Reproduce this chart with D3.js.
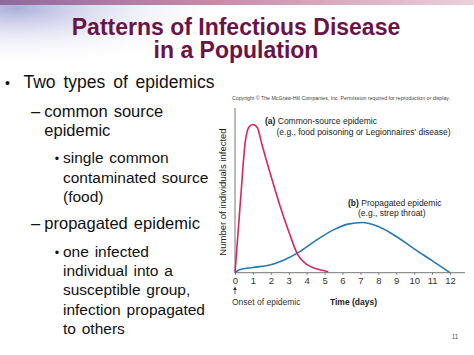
<!DOCTYPE html>
<html><head><meta charset="utf-8">
<script src="https://cdn.jsdelivr.net/npm/d3@7"></script>
<style>
html,body{margin:0;padding:0;background:#fff;}
svg{display:block;font-family:"Liberation Sans",Arial,sans-serif;}
</style></head>
<body>
<svg id="c" width="474" height="355"></svg>
<script>
// ---- data ----
const titleLines = ["Patterns of Infectious Disease", "in a Population"];
const days = [0,1,2,3,4,5,6,7,8,9,10,11,12];
const commonDays   = [0, 0.3, 0.58, 0.78, 1.0, 1.25, 1.5, 2.0, 2.5, 3.0, 3.5, 4.0, 4.5, 5.2];
const commonValues = [0, 43, 80, 88.5, 90, 88, 78, 59, 41, 25, 11, 5, 2.5, 0.6];
const propDays   = [0, 0.25, 1, 2, 2.7, 3.5, 4.5, 5.5, 6.3, 7.1, 8, 9, 10, 11, 12];
const propValues = [0, 1.8, 3.2, 4.8, 7.5, 12, 19.5, 26, 29.5, 30.5, 28, 22, 14.5, 7.3, 0];
const bulletLines = [
  {lvl:1, mark:"•", text:"Two types of epidemics", y:87.5},
  {lvl:2, mark:"–", text:"common source", y:116.5},
  {lvl:2, mark:"",  text:"epidemic", y:136},
  {lvl:3, mark:"•", text:"single common", y:163},
  {lvl:3, mark:"",  text:"contaminated source", y:182.5},
  {lvl:3, mark:"",  text:"(food)", y:201.5},
  {lvl:2, mark:"–", text:"propagated epidemic", y:229},
  {lvl:3, mark:"•", text:"one infected", y:256.5},
  {lvl:3, mark:"",  text:"individual into a", y:276},
  {lvl:3, mark:"",  text:"susceptible group,", y:295},
  {lvl:3, mark:"",  text:"infection propagated", y:314.5},
  {lvl:3, mark:"",  text:"to others", y:333.5}
];

const svg = d3.select("#c");
const defs = svg.append("defs");

// background
const g1 = defs.append("linearGradient").attr("id","topband").attr("x1","0").attr("x2","1");
g1.append("stop").attr("offset","0").attr("stop-color","#8e6a9e");
g1.append("stop").attr("offset","0.45").attr("stop-color","#c98aa8");
g1.append("stop").attr("offset","1").attr("stop-color","#ecd0dc");
const g2 = defs.append("radialGradient").attr("id","haze").attr("cx","0.05").attr("cy","0.1").attr("r","0.75");
g2.append("stop").attr("offset","0").attr("stop-color","#9fa6d6").attr("stop-opacity",0.9);
g2.append("stop").attr("offset","0.45").attr("stop-color","#d9d9ef").attr("stop-opacity",0.6);
g2.append("stop").attr("offset","1").attr("stop-color","#ffffff").attr("stop-opacity",0);
const g3 = defs.append("linearGradient").attr("id","fade").attr("x1","0").attr("x2","0").attr("y1","0").attr("y2","1");
g3.append("stop").attr("offset","0").attr("stop-color","#fff").attr("stop-opacity",0);
g3.append("stop").attr("offset","1").attr("stop-color","#fff").attr("stop-opacity",1);

svg.append("rect").attr("width",474).attr("height",355).attr("fill","#fff");
svg.append("rect").attr("x",0).attr("y",0).attr("width",300).attr("height",80).attr("fill","url(#haze)");
svg.append("rect").attr("x",0).attr("y",50).attr("width",474).attr("height",30).attr("fill","url(#fade)");
svg.append("rect").attr("x",0).attr("y",0).attr("width",474).attr("height",5).attr("fill","url(#topband)");

// title
svg.append("g").selectAll("text").data(titleLines).join("text")
  .attr("x",236).attr("y",(d,i)=>34.5+i*23.5)
  .attr("text-anchor","middle").attr("font-weight","bold").attr("font-size",23)
  .attr("fill","#6b1247").text(d=>d);

// bullets
const indent = {1:{m:7.5,t:23.5,fs:17.5},2:{m:31,t:44.3,fs:16.5},3:{m:57,t:63,fs:15.5}};
const bl = svg.append("g").attr("fill","#111");
bulletLines.forEach(d=>{
  const c = indent[d.lvl];
  if (d.mark) bl.append("text").attr("x",c.m).attr("y",d.y).attr("font-size",d.mark==="•"? c.fs*0.8 : c.fs)
      .attr("text-anchor", d.mark==="•"?"middle":"start").text(d.mark);
  bl.append("text").attr("x",c.t).attr("y",d.y).attr("font-size",c.fs)
    .attr("word-spacing", d.lvl===1?3:1.5).text(d.text);
});

// chart
const x = d3.scaleLinear().domain([0,12]).range([235,450]);
const y = d3.scaleLinear().domain([0,100]).range([272.7,108]);

svg.append("text").attr("x",232).attr("y",99.5).attr("font-size",4.8).attr("fill","#444")
  .attr("textLength",218).attr("lengthAdjust","spacingAndGlyphs")
  .text("Copyright \u00A9 The McGraw-Hill Companies, Inc. Permission required for reproduction or display.");

const xAxis = d3.axisBottom(x).tickValues(days).tickSize(2).tickPadding(3).tickFormat(d3.format("d"));
const ax = svg.append("g").attr("transform",`translate(0,${y(0)})`).call(xAxis);
ax.select(".domain").remove();
ax.selectAll(".tick line").attr("stroke","#777");
ax.selectAll(".tick text").attr("font-size",9.5).attr("fill","#333").attr("font-family","Liberation Sans, Arial, sans-serif");

svg.append("line").attr("x1",x(0)).attr("x2",465).attr("y1",y(0)).attr("y2",y(0)).attr("stroke","#777").attr("stroke-width",1);
svg.append("line").attr("x1",x(0)).attr("x2",x(0)).attr("y1",y(0)).attr("y2",y(100)).attr("stroke","#777").attr("stroke-width",1);

const line = d3.line().x(d=>x(d[0])).y(d=>y(d[1])).curve(d3.curveMonotoneX);
svg.append("path").datum(d3.zip(propDays,propValues)).attr("d",line)
  .attr("fill","none").attr("stroke","#2478b4").attr("stroke-width",1.6);
svg.append("path").datum(d3.zip(commonDays,commonValues)).attr("d",line)
  .attr("fill","none").attr("stroke","#d4285e").attr("stroke-width",1.6);

// y label
svg.append("text").attr("transform",`translate(226,192) rotate(-90)`).attr("text-anchor","middle")
  .attr("font-size",9.5).attr("fill","#222").text("Number of individuals infected");

// annotations
const ann = svg.append("g").attr("font-size",8.5).attr("fill","#222");
const a1 = ann.append("text").attr("x",265).attr("y",124);
a1.append("tspan").attr("font-weight","bold").text("(a)");
a1.append("tspan").text(" Common-source epidemic");
ann.append("text").attr("x",276.5).attr("y",134.5).text("(e.g., food poisoning or Legionnaires' disease)");
const b1 = ann.append("text").attr("x",348).attr("y",205.5);
b1.append("tspan").attr("font-weight","bold").text("(b)");
b1.append("tspan").text(" Propagated epidemic");
ann.append("text").attr("x",358).attr("y",215.5).text("(e.g., strep throat)");

// onset arrow & labels
svg.append("line").attr("x1",x(0)).attr("x2",x(0)).attr("y1",288).attr("y2",294).attr("stroke","#333").attr("stroke-width",0.8);
svg.append("path").attr("d",`M${x(0)-1.8},290 L${x(0)},286.5 L${x(0)+1.8},290 Z`).attr("fill","#333");
svg.append("text").attr("x",232).attr("y",304.5).attr("font-size",8.5).attr("fill","#333").text("Onset of epidemic");
svg.append("text").attr("x",353.5).attr("y",304.5).attr("text-anchor","middle").attr("font-size",8.5)
  .attr("font-weight","bold").attr("fill","#222").text("Time (days)");

svg.append("text").attr("x",455).attr("y",339).attr("text-anchor","middle").attr("font-size",6.5).attr("fill","#555").text("11");
</script>
</body></html>
